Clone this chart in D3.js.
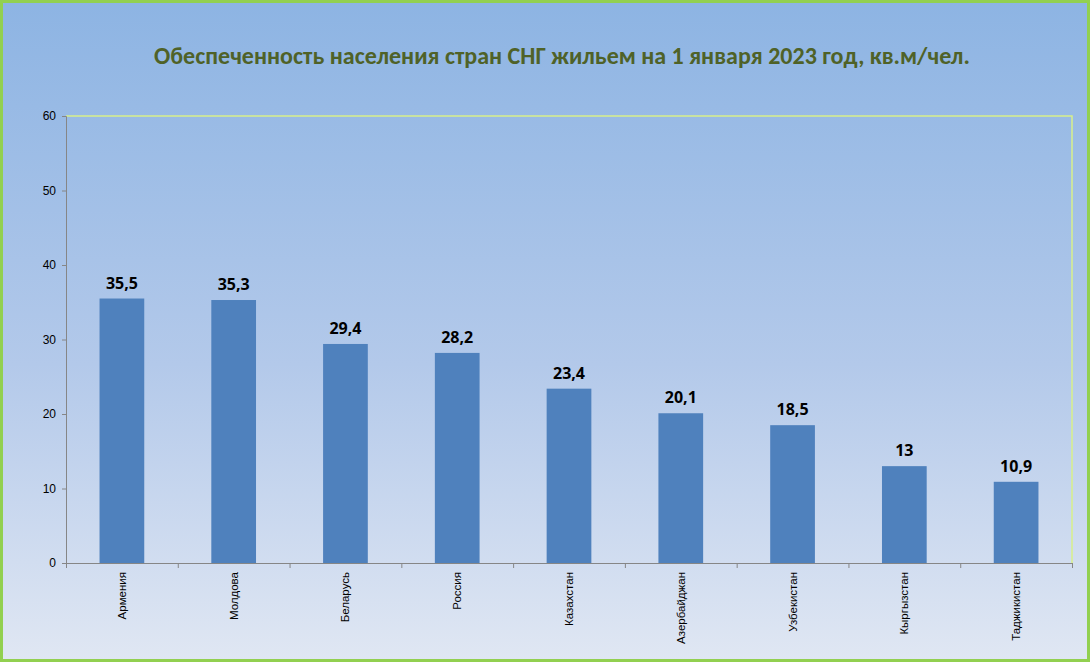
<!DOCTYPE html><html><head><meta charset="utf-8">
<script src="https://d3js.org/d3.v7.min.js"></script>
<style>body{margin:0}svg{display:block}</style></head><body><script>
const categories=["Армения","Молдова","Беларусь","Россия","Казахстан","Азербайджан","Узбекистан","Кыргызстан","Таджикистан"];
const values=[35.5,35.3,29.4,28.2,23.4,20.1,18.5,13,10.9];
const labels=["35,5","35,3","29,4","28,2","23,4","20,1","18,5","13","10,9"];
const yTicks=[0,10,20,30,40,50,60];
const W=1090,H=662;
const svg=d3.select("body").append("svg").attr("width",W).attr("height",H);
const defs=svg.append("defs");
const g1=defs.append("linearGradient").attr("id","bg").attr("x1",0).attr("y1",0).attr("x2",0).attr("y2",1);
g1.append("stop").attr("offset",0).attr("stop-color","#8db4e3");
g1.append("stop").attr("offset",0.55).attr("stop-color","#b3c9ea");
g1.append("stop").attr("offset",1).attr("stop-color","#e0e7f3");
svg.append("rect").attr("x",1.5).attr("y",1.5).attr("width",W-3).attr("height",H-3).attr("fill","url(#bg)").attr("stroke","#92d050").attr("stroke-width",3);
svg.append("text").attr("x",562).attr("y",64).attr("text-anchor","middle").attr("font-family","Calibri, Carlito, 'Open Sans', sans-serif").attr("font-weight","bold").attr("font-size",24).attr("fill","#4f6228").text("Обеспеченность населения стран СНГ жильем на 1 января 2023 год, кв.м/чел.");
const x=d3.scaleBand().domain(categories).range([66,1072]).paddingInner(0.6).paddingOuter(0.3);
const y=d3.scaleLinear().domain([0,60]).range([563,116]);
svg.append("path").attr("d",`M66,116H1072V563`).attr("fill","none").attr("stroke","#d8f08a").attr("stroke-width",1.5);
svg.selectAll(".bar").data(values).join("rect").attr("x",(d,i)=>x(categories[i])).attr("y",d=>y(d)).attr("width",x.bandwidth()).attr("height",d=>563-y(d)).attr("fill","#4f81bd");
svg.selectAll(".lbl").data(values).join("text").attr("x",(d,i)=>x(categories[i])+x.bandwidth()/2).attr("y",d=>y(d)-10).attr("text-anchor","middle").attr("font-family","'Open Sans', sans-serif").attr("font-weight","bold").attr("font-size",16).attr("fill","#000").text((d,i)=>labels[i]);
const ya=svg.append("g").attr("transform","translate(66,0)").call(d3.axisLeft(y).tickValues(yTicks).tickSize(4).tickPadding(6));
const xa=svg.append("g").attr("transform","translate(0,563)").call(d3.axisBottom(d3.scaleLinear().domain([0,9]).range([66,1072])).tickValues(d3.range(10)).tickSize(5).tickFormat(""));
[ya,xa].forEach(a=>{a.selectAll("path,line").attr("stroke","#868686");a.selectAll("text").attr("font-family","'Liberation Sans', Arial, sans-serif").attr("font-size",12).attr("fill","#000");});
svg.selectAll(".cat").data(categories).join("text").attr("transform",d=>`translate(${x(d)+x.bandwidth()/2+4},572) rotate(-90)`).attr("text-anchor","end").attr("font-family","'Liberation Sans', Arial, sans-serif").attr("font-size",11.5).text(d=>d);
</script></body></html>
